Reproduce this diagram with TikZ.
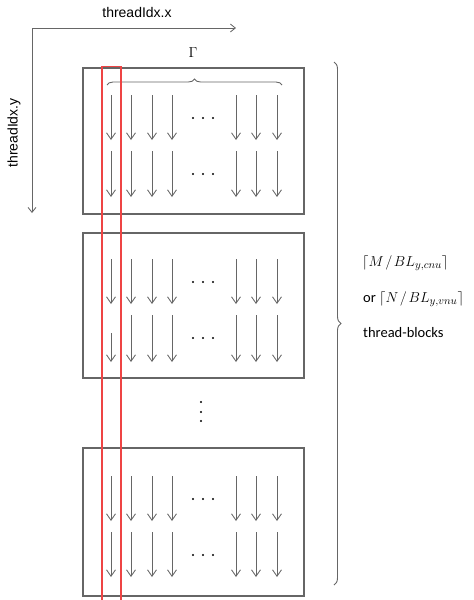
\documentclass[tikz,border=0pt]{standalone}
\usepackage{fontspec}
\usetikzlibrary{arrows.meta,decorations.pathreplacing}
\newfontfamily\arialf{Liberation Sans}
\newfontfamily\calibf{Carlito}
\definecolor{lg}{HTML}{666666}
\definecolor{rl}{HTML}{EE4444}
\begin{document}
\begin{tikzpicture}[x=1pt,y=-1pt,
  blockbox/.style={draw=lg,line width=1.1pt,minimum width=221pt,inner sep=0pt},
  tharrow/.style={draw=lg,line width=1pt,-{Straight Barb[length=6.5pt,width=9pt,line width=0.85pt]}},
  axisarrow/.style={draw=lg,line width=1pt,-{Straight Barb[length=5pt,width=8pt,line width=0.85pt]}},
  lbl/.style={font=\calibf\fontsize{14.5}{17}\selectfont,anchor=west,inner sep=0pt},
  brc/.style={draw=lg,line width=0.9pt,decorate}]
\useasboundingbox (0,0) rectangle (474,600);
% axes
\coordinate (o) at (32,28);
\coordinate (xe) at (236,28);
\coordinate (ye) at (32,213);
\draw[axisarrow] (o) -- (xe);
\draw[axisarrow] (o) -- (ye);
\node[font=\arialf\fontsize{14}{16}\selectfont,inner sep=0pt] (tx) at (137,12) {threadIdx.x};
\node[font=\arialf\fontsize{14}{16}\selectfont,inner sep=0pt,rotate=90] (ty) at (14,133) {threadIdx.y};
% blocks
\node[blockbox,minimum height=146pt] (b1) at (193.5,141) {};
\node[blockbox,minimum height=145pt] (b2) at (193.5,305.5) {};
\node[blockbox,minimum height=148pt] (b3) at (193.5,522) {};
% arrows in blocks
\foreach \t/\o in {68/0,233/-1,448/1}{
  \foreach \x in {111,131,152,172,236,256,277}{
    \draw[tharrow] (\x,\t+27+\o) -- (\x,\t+72+\o);
  }
  \foreach \x in {131,152,172,236,256,277}{
    \draw[tharrow] (\x,\t+83+\o) -- (\x,\t+129);
  }
  \fill (193,\t+50+\o) circle (1.1pt) (203,\t+50+\o) circle (1.1pt) (213,\t+50+\o) circle (1.1pt);
  \fill (193,\t+106+\o) circle (1.1pt) (203,\t+106+\o) circle (1.1pt) (213,\t+106+\o) circle (1.1pt);
}
\draw[tharrow] (111,68+83) -- (111,68+129);
\draw[tharrow] (111,333) -- (111,362);
\draw[tharrow] (111,448+84) -- (111,448+129);
% vertical dots
\fill (201,402) circle (1.1pt) (201,412) circle (1.1pt) (201,421) circle (1.1pt);
% Gamma brace
\draw[brc,decoration={brace,amplitude=6pt}] (107,85) -- (282,85);
\node[inner sep=0pt,font=\fontsize{14}{16}\selectfont] (gam) at (193,53) {$\Gamma$};
% red column
\draw[rl,line width=1.1pt] (102,600) -- (102,66.5) -- (121,66.5) -- (121,600);
% right brace
\draw[brc,decoration={brace,amplitude=7pt}] (334,62) -- (334,585);
\node[lbl,font=\fontsize{15.5}{18}\selectfont] (l1) at (362,263) {$\lceil M\mkern2mu/\mkern2mu BL_{y,cnu}\rceil$};
\node[lbl] (l2) at (363,299) {or {\fontsize{15.5}{18}\selectfont$\lceil N\mkern2mu/\mkern2mu BL_{y,vnu}\rceil$}};
\node[lbl] (l3) at (363,333) {thread-blocks};
\end{tikzpicture}
\end{document}
